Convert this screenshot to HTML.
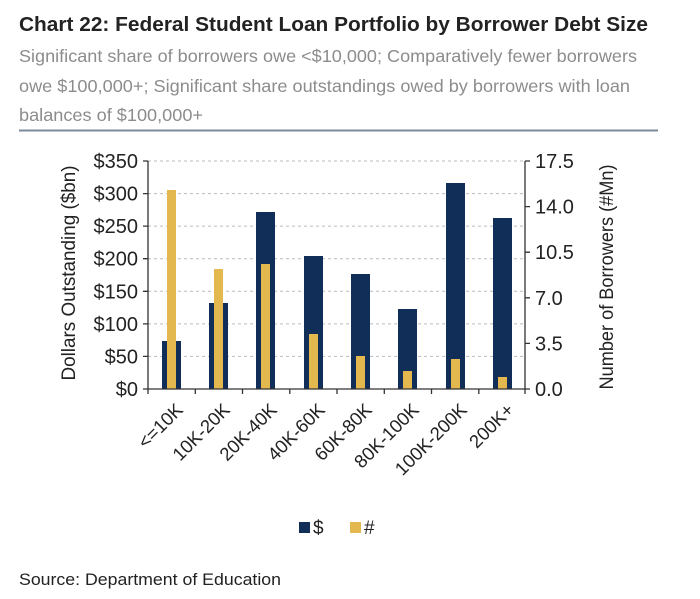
<!DOCTYPE html>
<html><head><meta charset="utf-8"><style>
body{margin:0;background:#fff;width:700px;height:594px;overflow:hidden;font-family:"Liberation Sans",sans-serif}
</style></head><body>
<svg width="700" height="594" xmlns="http://www.w3.org/2000/svg" font-family="Liberation Sans, sans-serif">
<text x="19" y="31" font-size="20" font-weight="bold" fill="#222" textLength="629" lengthAdjust="spacingAndGlyphs">Chart 22: Federal Student Loan Portfolio by Borrower Debt Size</text>
<text font-size="17.5" fill="#8c8c8c"><tspan x="19" y="62" textLength="618" lengthAdjust="spacingAndGlyphs">Significant share of borrowers owe &lt;$10,000; Comparatively fewer borrowers</tspan><tspan x="19" y="92" textLength="611" lengthAdjust="spacingAndGlyphs">owe $100,000+; Significant share outstandings owed by borrowers with loan</tspan><tspan x="19" y="121" textLength="184" lengthAdjust="spacingAndGlyphs">balances of $100,000+</tspan></text>
<line x1="19" y1="130.5" x2="658" y2="130.5" stroke="#7a8a99" stroke-width="2"/>
<g stroke="#bbb" stroke-dasharray="3,3" stroke-width="1">
<line x1="148" x2="525" y1="161" y2="161"/><line x1="148" x2="525" y1="193.6" y2="193.6"/><line x1="148" x2="525" y1="226.1" y2="226.1"/><line x1="148" x2="525" y1="258.7" y2="258.7"/><line x1="148" x2="525" y1="291.3" y2="291.3"/><line x1="148" x2="525" y1="323.9" y2="323.9"/><line x1="148" x2="525" y1="356.4" y2="356.4"/>
</g>
<g fill="#112e58">
<rect x="162" y="341" width="19" height="48"/><rect x="209" y="303" width="19" height="86"/><rect x="256" y="212" width="19" height="177"/><rect x="304" y="256" width="19" height="133"/><rect x="351" y="274" width="19" height="115"/><rect x="398" y="309" width="19" height="80"/><rect x="446" y="183" width="19" height="206"/><rect x="493" y="218" width="19" height="171"/>
</g>
<g fill="#e3b94f">
<rect x="167" y="190" width="9" height="199"/><rect x="214" y="269" width="9" height="120"/><rect x="261" y="264" width="9" height="125"/><rect x="309" y="334" width="9" height="55"/><rect x="356" y="356" width="9" height="33"/><rect x="403" y="371" width="9" height="18"/><rect x="451" y="359" width="9" height="30"/><rect x="498" y="377" width="9" height="12"/>
</g>
<g stroke="#333" stroke-width="1.3" fill="none">
<line x1="148" y1="161" x2="148" y2="394"/><line x1="525" y1="161" x2="525" y2="394"/><line x1="143" y1="389" x2="530" y2="389"/>
<path d="M148 161h-5M148 193.6h-5M148 226.1h-5M148 258.7h-5M148 291.3h-5M148 323.9h-5M148 356.4h-5"/>
<path d="M525 161h5M525 206.6h5M525 252.2h5M525 297.8h5M525 343.4h5"/>
<path d="M195.3 389v5M242.5 389v5M289.8 389v5M337 389v5M384.3 389v5M431.5 389v5M478.8 389v5"/>
</g>
<g font-size="20" fill="#222" text-anchor="end">
<text x="138" y="168">$350</text><text x="138" y="200.6">$300</text><text x="138" y="233.1">$250</text><text x="138" y="265.7">$200</text><text x="138" y="298.3">$150</text><text x="138" y="330.9">$100</text><text x="138" y="363.4">$50</text><text x="138" y="396">$0</text>
</g>
<g font-size="20" fill="#222">
<text x="535" y="168">17.5</text><text x="535" y="213.6">14.0</text><text x="535" y="259.2">10.5</text><text x="535" y="304.8">7.0</text><text x="535" y="350.4">3.5</text><text x="535" y="396">0.0</text>
</g>
<text transform="translate(75,273) rotate(-90)" font-size="19" fill="#222" text-anchor="middle" textLength="215" lengthAdjust="spacingAndGlyphs">Dollars Outstanding ($bn)</text>
<text transform="translate(613,277) rotate(-90)" font-size="19" fill="#222" text-anchor="middle" textLength="225" lengthAdjust="spacingAndGlyphs">Number of Borrowers (#Mn)</text>
<g font-size="18.5" fill="#222" text-anchor="end">
<text transform="translate(184,411) rotate(-45)">&lt;=10K</text>
<text transform="translate(231,411) rotate(-45)">10K-20K</text>
<text transform="translate(278,411) rotate(-45)">20K-40K</text>
<text transform="translate(326,411) rotate(-45)">40K-60K</text>
<text transform="translate(373,411) rotate(-45)">60K-80K</text>
<text transform="translate(420,411) rotate(-45)">80K-100K</text>
<text transform="translate(468,411) rotate(-45)">100K-200K</text>
<text transform="translate(515,411) rotate(-45)">200K+</text>
</g>
<rect x="299" y="522" width="11" height="11" fill="#112e58"/>
<text x="313" y="534" font-size="19" fill="#222">$</text>
<rect x="350" y="522" width="11" height="11" fill="#e3b94f"/>
<text x="364" y="534" font-size="19" fill="#222">#</text>
<text x="19" y="585" font-size="17" fill="#222" textLength="262" lengthAdjust="spacingAndGlyphs">Source: Department of Education</text>
</svg>
</body></html>
